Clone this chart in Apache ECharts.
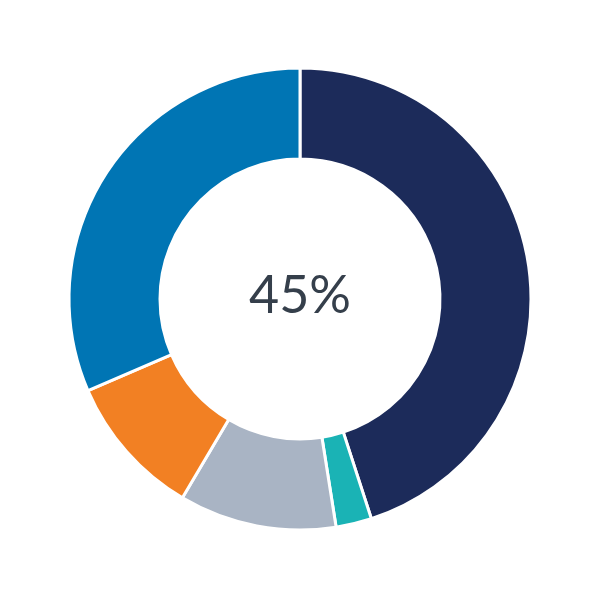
<!DOCTYPE html>
<html><head><meta charset="utf-8">
<script src="https://cdn.jsdelivr.net/npm/echarts@6/dist/echarts.min.js"></script>
<style>html,body{margin:0;padding:0;background:#fff}#c{width:600px;height:599px}</style>
</head><body><div id="c"></div>
<script>
const categories = ['A', 'B', 'C', 'D', 'E'];
const values = [45, 2.5, 11, 10, 31.5];
const colors = ['#1c2b5a', '#1ab3b5', '#a9b4c4', '#f28023', '#0075b4'];
const centerLabel = '45%';
const chart = echarts.init(document.getElementById('c'));
chart.setOption({
  animation: false,
  graphic: [{
    type: 'text', left: 'center', top: 270,
    style: { text: centerLabel, font: '52px Lato', fill: '#353f4b' }
  }],
  series: [{
    type: 'pie', center: [300, 299], radius: [140, 231],
    startAngle: 90, clockwise: true, label: { show: false }, labelLine: { show: false },
    itemStyle: { borderColor: '#fff', borderWidth: 3 },
    data: categories.map((c, i) => ({ name: c, value: values[i], itemStyle: { color: colors[i] } }))
  }]
});
</script></body></html>
